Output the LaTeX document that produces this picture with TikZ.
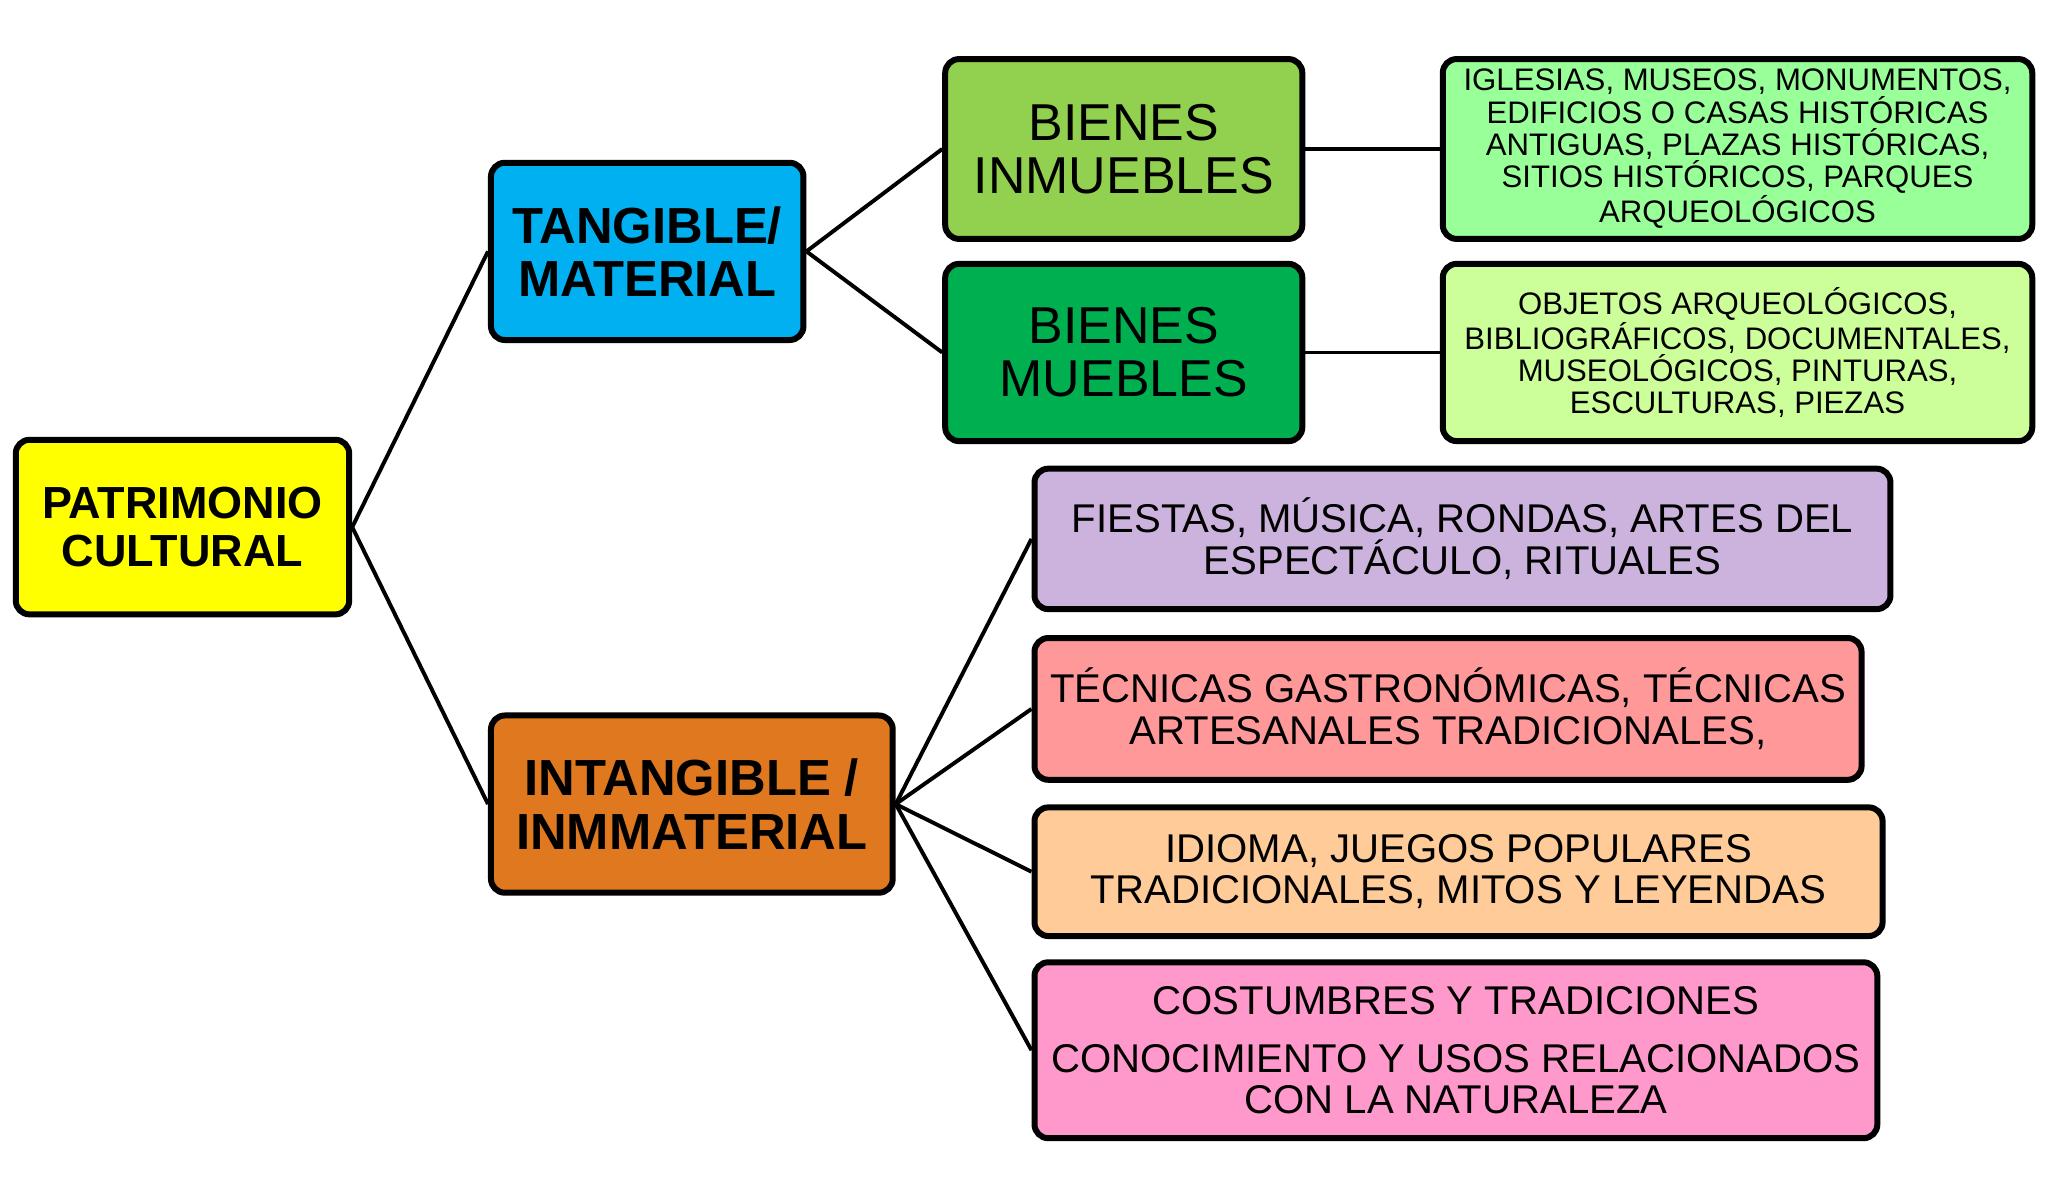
\documentclass[tikz,border=0pt]{standalone}
\usepackage{fontspec}
\setmainfont{Liberation Sans}
\begin{document}
\begin{tikzpicture}[x=0.02cm,y=-0.02cm,
  bx/.style={draw=black,line width=2.6pt,rounded corners=6pt,inner sep=0pt,align=center},
  ln/.style={line width=1.7pt}]
\useasboundingbox (0,0) rectangle (1560,908.6);
\definecolor{cyy}{HTML}{FFFF00}\definecolor{cyc}{HTML}{00B0F0}\definecolor{cyo}{HTML}{E07820}
\definecolor{cg1}{HTML}{92D050}\definecolor{cg2}{HTML}{00B050}\definecolor{cg3}{HTML}{99FF99}
\definecolor{cg4}{HTML}{CCFF99}\definecolor{cpu}{HTML}{CCB3DD}\definecolor{cre}{HTML}{FF9999}
\definecolor{cor}{HTML}{FFCC99}\definecolor{cpk}{HTML}{FF99CC}
\newcommand{\bxn}[8]{\node[bx,fill=#6,font=#7,minimum width={(#3-#2)*0.02cm},minimum height={(#5-#4)*0.02cm}] (#1) at ({(#2+#3)/2},{(#4+#5)/2}) {#8};}
\bxn{pat}{12}{266}{335}{468}{cyy}{\fontsize{19.5}{21}\selectfont\bfseries}{PATRIMONIO\\CULTURAL}
\bxn{tan}{374}{612}{124}{259}{cyc}{\fontsize{22}{23}\selectfont\bfseries}{TANGIBLE/\\MATERIAL}
\bxn{int}{374}{680}{545}{680}{cyo}{\fontsize{22}{23}\selectfont\bfseries}{INTANGIBLE /\\INMMATERIAL}
\bxn{inm}{720}{992}{45}{182}{cg1}{\fontsize{22.5}{23}\selectfont}{BIENES\\INMUEBLES}
\bxn{mue}{720}{992}{201}{336}{cg2}{\fontsize{22.5}{23}\selectfont}{BIENES\\MUEBLES}
\bxn{r1}{1099}{1548}{45}{182}{cg3}{\fontsize{13.5}{14}\selectfont}{IGLESIAS, MUSEOS, MONUMENTOS,\\EDIFICIOS O CASAS HISTÓRICAS\\ANTIGUAS, PLAZAS HISTÓRICAS,\\SITIOS HISTÓRICOS, PARQUES\\ARQUEOLÓGICOS}
\bxn{r2}{1099}{1548}{201}{336}{cg4}{\fontsize{13.5}{14}\selectfont}{OBJETOS ARQUEOLÓGICOS,\\BIBLIOGRÁFICOS, DOCUMENTALES,\\MUSEOLÓGICOS, PINTURAS,\\ESCULTURAS, PIEZAS}
\bxn{f1}{788}{1440}{357}{464}{cpu}{\fontsize{17.4}{18}\selectfont}{FIESTAS, MÚSICA, RONDAS, ARTES DEL\\ESPECTÁCULO, RITUALES}
\bxn{f2}{788}{1418}{486}{594}{cre}{\fontsize{17.4}{18}\selectfont}{TÉCNICAS GASTRONÓMICAS, TÉCNICAS\\ARTESANALES TRADICIONALES,}
\bxn{f3}{788}{1434}{615}{713}{cor}{\fontsize{17.4}{18}\selectfont}{IDIOMA, JUEGOS POPULARES\\TRADICIONALES, MITOS Y LEYENDAS}
\bxn{f4}{788}{1430}{733}{867}{cpk}{\fontsize{17.4}{18}\selectfont}{COSTUMBRES Y TRADICIONES\\[7pt]CONOCIMIENTO Y USOS RELACIONADOS\\CON LA NATURALEZA}
\draw[ln] (pat.east) -- (tan.west);
\draw[ln] (pat.east) -- (int.west);
\draw[ln] (tan.east) -- (inm.west);
\draw[ln] (tan.east) -- (mue.west);
\draw[ln] (inm.east) -- (r1.west);
\draw[ln] (mue.east) -- (r2.west);
\foreach \t in {f1,f2,f3,f4} \draw[ln] (int.east) -- (\t.west);
\end{tikzpicture}
\end{document}
